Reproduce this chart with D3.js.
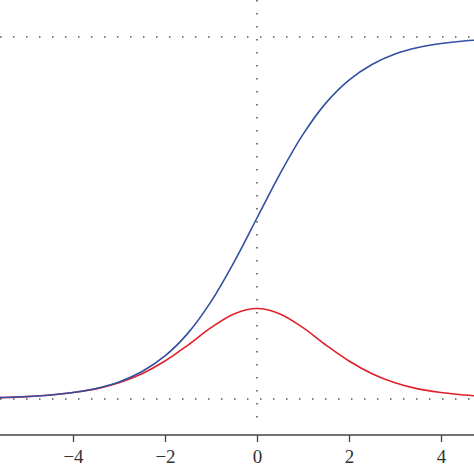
<!DOCTYPE html>
<html><head><meta charset="utf-8">
<script src="https://cdn.jsdelivr.net/npm/d3@7"></script>
<style>body{margin:0;background:#fff}</style>
</head><body>
<svg id="chart" width="474" height="474"></svg>
<script>
const xs = [-6,-5.5,-5,-4.5,-4,-3.5,-3,-2.5,-2,-1.5,-1,-0.5,0,0.5,1,1.5,2,2.5,3,3.5,4,4.5,5];
const sigmoid = [0.0025,0.004,0.0067,0.011,0.018,0.029,0.047,0.076,0.119,0.182,0.269,0.378,0.5,0.622,0.731,0.818,0.881,0.924,0.953,0.971,0.982,0.989,0.993];
const deriv = [0.0025,0.004,0.0066,0.011,0.018,0.028,0.045,0.070,0.105,0.149,0.197,0.235,0.25,0.235,0.197,0.149,0.105,0.070,0.045,0.028,0.018,0.011,0.0066];
const xTicks = [-4,-2,0,2,4];

const svg = d3.select("#chart");
const x = d3.scaleLinear().domain([0, 2]).range([257, 349]);
const y = d3.scaleLinear().domain([0, 1]).range([399, 37]);

// dotted guides
[0, 1].forEach(v => {
  svg.append("line")
    .attr("x1", 0).attr("x2", 474)
    .attr("y1", y(v)).attr("y2", y(v))
    .attr("stroke", "#555").attr("stroke-width", 1.6)
    .attr("stroke-dasharray", "1.5,11.5");
});
svg.append("line")
  .attr("x1", x(0)).attr("x2", x(0))
  .attr("y1", 0).attr("y2", 425)
  .attr("stroke", "#555").attr("stroke-width", 1.6)
  .attr("stroke-dasharray", "1.5,11.5");

// axis
const axis = svg.append("g").attr("transform", "translate(0,435)")
  .call(d3.axisBottom(x).tickValues(xTicks).tickSize(7).tickPadding(8)
    .tickFormat(d => d < 0 ? "\u2212" + Math.abs(d) : d));
axis.select(".domain").attr("d", "M0,0H474").attr("stroke", "#444").attr("stroke-width", 1.3);
axis.selectAll(".tick line").attr("stroke", "#444").attr("stroke-width", 1.3);
axis.selectAll("text").attr("font-family", "Liberation Serif, serif")
  .attr("font-size", 19).attr("fill", "#333");

const line = d3.line().x((d, i) => x(xs[i])).y(d => y(d)).curve(d3.curveCatmullRom);
svg.append("path").datum(deriv).attr("d", line)
  .attr("fill", "none").attr("stroke", "#e0212b").attr("stroke-width", 1.6);
svg.append("path").datum(sigmoid).attr("d", line)
  .attr("fill", "none").attr("stroke", "#3050a0").attr("stroke-width", 1.6);
</script>
</body></html>
